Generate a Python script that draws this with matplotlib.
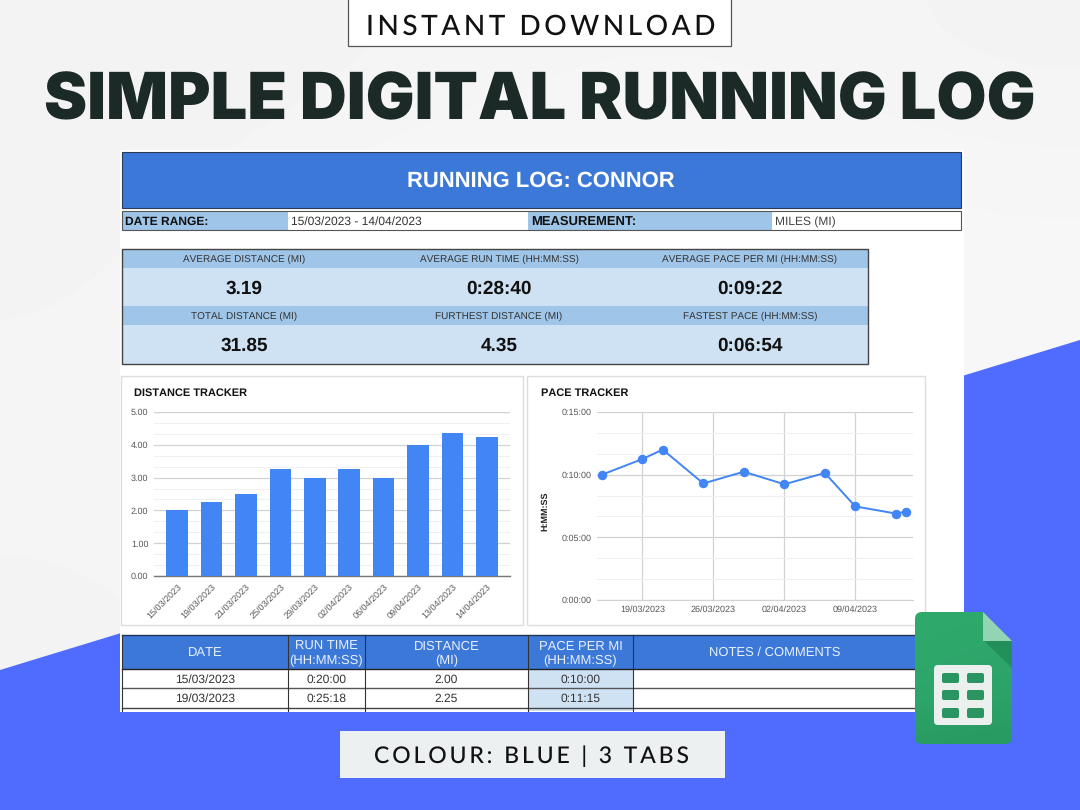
import numpy as np
import pandas as pd
import matplotlib
matplotlib.use("Agg")
import matplotlib.pyplot as plt
import matplotlib.dates as mdates
from matplotlib.patches import Rectangle, Polygon, FancyBboxPatch, PathPatch
from matplotlib.path import Path
from matplotlib.ticker import AutoMinorLocator, FuncFormatter, MultipleLocator

# ── Data ──────────────────────────────────────────────────────────────────────
run_dates = ["15/03/2023", "19/03/2023", "21/03/2023", "25/03/2023", "29/03/2023",
             "02/04/2023", "06/04/2023", "09/04/2023", "13/04/2023", "14/04/2023"]
distance = [2.00, 2.25, 2.50, 3.25, 3.00, 3.25, 3.00, 4.00, 4.35, 4.25]
pace = ["0:10:00", "0:11:15", "0:12:00", "0:09:18", "0:10:14",
        "0:09:14", "0:10:08", "0:07:28", "0:06:54", "0:07:03"]
pace_ticks = ["19/03/2023", "26/03/2023", "02/04/2023", "09/04/2023"]

stat_labels = [["AVERAGE DISTANCE (MI)", "AVERAGE RUN TIME (HH:MM:SS)", "AVERAGE PACE PER MI (HH:MM:SS)"],
               ["TOTAL DISTANCE (MI)", "FURTHEST DISTANCE (MI)", "FASTEST PACE (HH:MM:SS)"]]
stat_values = [["3.19", "0:28:40", "0:09:22"],
               ["31.85", "4.35", "0:06:54"]]

table_head = ["DATE", "RUN TIME\n(HH:MM:SS)", "DISTANCE\n(MI)", "PACE PER MI\n(HH:MM:SS)", "NOTES / COMMENTS"]
table_rows = [["15/03/2023", "0:20:00", "2.00", "0:10:00", ""],
              ["19/03/2023", "0:25:18", "2.25", "0:11:15", ""]]

# ── Style ─────────────────────────────────────────────────────────────────────
W, H = 1080, 810
BLUE_BG = "#4F6CFF"
SHEET_BLUE = "#3C78D8"
MID_BLUE = "#9FC5E8"
PALE_BLUE = "#CFE2F3"
CHART_BLUE = "#4285F4"
DARK = "#1B2A26"
plt.rcParams["font.family"] = ["Liberation Sans", "DejaVu Sans"]
plt.rcParams["text.hinting"] = "no_hinting"
plt.rcParams["text.hinting_factor"] = 1

fig = plt.figure(figsize=(W / 100, H / 100), dpi=100, facecolor="#F4F4F4")

# page canvas in pixel coordinates, y pointing down
bg = fig.add_axes([0, 0, 1, 1])


def rect(x0, y0, x1, y1, color, edge="none", lw=0.0, z=2):
    bg.add_patch(Rectangle((x0, y0), x1 - x0, y1 - y0, facecolor=color,
                           edgecolor=edge, linewidth=lw, zorder=z))


def px_axes(x0, y0, x1, y1):
    return fig.add_axes([x0 / W, 1 - y1 / H, (x1 - x0) / W, (y1 - y0) / H])


def spaced(s):
    return "\u200a\u200a".join(s)


# soft sheen on the grey background
sheen = np.array([[0.95, 0.955, 0.96, 0.96, 0.955],
                  [0.955, 0.97, 0.97, 0.975, 0.97],
                  [0.96, 0.965, 0.96, 0.965, 0.96],
                  [0.955, 0.96, 0.96, 0.96, 0.965]])
bg.imshow(sheen, extent=(0, W, 700, 0), cmap="gray", vmin=0, vmax=1, aspect="auto",
          interpolation="bicubic", zorder=0)
bg.set_xlim(0, W)
bg.set_ylim(H, 0)
bg.axis("off")

# blue wedge
bg.add_patch(Polygon([(0, 670), (1080, 340), (1080, 810), (0, 810)], facecolor=BLUE_BG, zorder=1))

# ── Headline ──────────────────────────────────────────────────────────────────
rect(348, -2, 731, 46, "white", edge="#555555", lw=0.9, z=3)
bg.text(541, 27, spaced("INSTANT DOWNLOAD"), ha="center", va="center", fontsize=20.3,
        color="#111111", fontweight="medium", family=["Lato", "DejaVu Sans"], zorder=4)
bg.text(540, 102, "SIMPLE DIGITAL RUNNING LOG", ha="center", va="center", fontsize=46.7,
        fontweight=900, color=DARK, family=["Inter", "DejaVu Sans"], zorder=4)

rect(340, 731, 725, 778, "#ECF0F1", z=3)
bg.text(532, 756, spaced("COLOUR: BLUE | 3 TABS"), ha="center", va="center", fontsize=16.5,
        color="#111111", fontweight="medium", family=["Lato", "DejaVu Sans"], zorder=4)

# ── Sheet panel ───────────────────────────────────────────────────────────────
rect(120, 150, 964, 712, "white", z=2)

rect(122, 152, 961, 208, SHEET_BLUE, edge="#2B3A55", lw=0.8, z=3)
bg.text(541, 181, "RUNNING LOG: CONNOR", ha="center", va="center", fontsize=16,
        fontweight="bold", color="white", zorder=4)

rect(122, 211, 288, 230, MID_BLUE, z=3)
rect(528, 211, 772, 230, MID_BLUE, z=3)
bg.add_patch(Rectangle((122, 211), 839, 19, fill=False, edgecolor="#555555", linewidth=0.8, zorder=5))
row_mid = 220.5
bg.text(125, row_mid, "DATE RANGE:", va="center_baseline", fontsize=8.8, fontweight="bold", color="#111111", zorder=6)
bg.text(291, row_mid, "15/03/2023 - 14/04/2023", va="center_baseline", fontsize=8.7, color="#333333", zorder=6)
bg.text(531, row_mid, "MEASUREMENT:", va="center_baseline", fontsize=9, fontweight="bold", color="#111111", zorder=6)
bg.text(775, row_mid + 1, "MILES (MI)", va="center_baseline", fontsize=8.8, color="#444444", zorder=6)

# stat block
stat_x = [244, 499, 750]
for row, (y_lab, y_val) in enumerate([(249, 268), (306, 325)]):
    y_end = 306 if row == 0 else 364
    rect(122, y_lab, 868, y_val, MID_BLUE, z=3)
    rect(122, y_val, 868, y_end, PALE_BLUE, z=3)
    for col, x in enumerate(stat_x):
        bg.text(x, (y_lab + y_val) / 2 + 1, stat_labels[row][col], ha="center", va="center",
                fontsize=7.1, color="#333333", zorder=4)
        bg.text(x, (y_val + y_end) / 2 + 1.5, stat_values[row][col], ha="center", va="center",
                fontsize=14, fontweight="bold", color="#111111", zorder=4)
bg.add_patch(Rectangle((122, 249), 746, 115, fill=False, edgecolor="#444444", linewidth=1.0, zorder=5))

# chart frames
for x0, x1 in [(121, 523), (527, 925)]:
    rect(x0, 376, x1, 625, "white", edge="#DDDDDD", lw=1.0, z=3)
bg.text(134, 393.5, "DISTANCE TRACKER", va="center", fontsize=8, fontweight="bold", color="#111111", zorder=4)
bg.text(541, 393.5, "PACE TRACKER", va="center", fontsize=8, fontweight="bold", color="#111111", zorder=4)

# ── Distance tracker ──────────────────────────────────────────────────────────
ax1 = px_axes(154, 412, 510, 576)
ax1.set_facecolor("none")
ax1.bar(range(len(distance)), distance, width=0.63, color=CHART_BLUE, zorder=3)
ax1.set_xlim(-0.67, 9.67)
ax1.set_ylim(0, 5)
ax1.yaxis.set_major_locator(MultipleLocator(1))
ax1.yaxis.set_minor_locator(AutoMinorLocator(3))
ax1.yaxis.set_major_formatter(FuncFormatter(lambda v, _: f"{v:.2f}"))
ax1.grid(True, axis="y", which="major", color="#D2D2D2", linewidth=0.9, zorder=0)
ax1.grid(True, axis="y", which="minor", color="#F0F0F0", linewidth=0.8, zorder=0)
ax1.set_xticks(range(len(run_dates)))
ax1.set_xticklabels(run_dates, rotation=45, ha="right", rotation_mode="anchor")
ax1.tick_params(axis="both", which="both", length=0, labelsize=6.5, labelcolor="#555555")
ax1.tick_params(axis="x", pad=5)
ax1.tick_params(axis="y", pad=4)
for side in ["top", "right", "left"]:
    ax1.spines[side].set_visible(False)
ax1.spines["bottom"].set_color("#777777")
ax1.spines["bottom"].set_linewidth(1.0)

# ── Pace tracker ──────────────────────────────────────────────────────────────
when = pd.to_datetime(run_dates, format="%d/%m/%Y")
pace_min = pd.to_timedelta(pace).total_seconds() / 60

ax2 = px_axes(597, 412, 913, 600)
ax2.set_facecolor("none")
ax2.plot(when, pace_min, "-o", color=CHART_BLUE, linewidth=1.4, markersize=5.8, zorder=3, clip_on=False)
day0 = mdates.date2num(when[0])
ax2.set_xlim(day0 - 0.49, day0 + 30.7)
ax2.set_ylim(0, 15)
ax2.set_xticks(pd.to_datetime(pace_ticks, format="%d/%m/%Y"))
ax2.xaxis.set_major_formatter(mdates.DateFormatter("%d/%m/%Y"))
ax2.yaxis.set_major_locator(MultipleLocator(5))
ax2.yaxis.set_minor_locator(AutoMinorLocator(3))
ax2.yaxis.set_major_formatter(FuncFormatter(lambda v, _: f"0:{int(v):02d}:00"))
ax2.grid(True, axis="y", which="major", color="#D2D2D2", linewidth=0.9, zorder=0)
ax2.grid(True, axis="y", which="minor", color="#F0F0F0", linewidth=0.8, zorder=0)
ax2.grid(True, axis="x", which="major", color="#D2D2D2", linewidth=0.9, zorder=0)
ax2.tick_params(axis="both", which="both", length=0, labelsize=6.5, labelcolor="#555555")
ax2.tick_params(axis="x", pad=4)
ax2.tick_params(axis="y", pad=4)
for side in ["top", "right", "left"]:
    ax2.spines[side].set_visible(False)
ax2.spines["bottom"].set_color("#D2D2D2")
ax2.set_axisbelow(True)
bg.text(545, 511, "H:MM:SS", rotation=90, ha="center", va="center", fontsize=6.5,
        fontweight="bold", color="#222222", zorder=4)

# ── Log table ─────────────────────────────────────────────────────────────────
col_x = [122, 288, 365, 528, 633, 916]
row_y = [669, 688, 708, 712]
rect(120, 633, 916, 712, "white", z=3)
rect(col_x[0], 635, col_x[-1], 669, SHEET_BLUE, z=4)
rect(col_x[3], 669, col_x[4], 711, PALE_BLUE, z=4)
for c, label in enumerate(table_head):
    y_head = 654 if "\n" in label else 653
    bg.text((col_x[c] + col_x[c + 1]) / 2, y_head, label, ha="center", va="center", fontsize=9,
            color="#E8F0FB", linespacing=1.2, zorder=6)
for r, row in enumerate(table_rows):
    for c, val in enumerate(row):
        bg.text((col_x[c] + col_x[c + 1]) / 2, (row_y[r] + row_y[r + 1]) / 2, val, ha="center",
                va="center_baseline", fontsize=8.8, color="#333333", zorder=6)
for y, color in [(635, "#223355"), (669, "#222222"), (688, "#555555"), (708, "#444444")]:
    bg.plot([col_x[0], col_x[-1]], [y, y], color=color, linewidth=1.0, zorder=5)
for x in col_x[:5]:
    bg.plot([x, x], [635, 711], color="#333333", linewidth=0.8, zorder=5)

# ── Sheets icon ───────────────────────────────────────────────────────────────
verts = [(922, 612), (983, 612), (1012, 641), (1012, 737), (1012, 744), (1005, 744),
         (922, 744), (915, 744), (915, 737), (915, 619), (915, 612), (922, 612)]
codes = [Path.MOVETO, Path.LINETO, Path.LINETO, Path.LINETO, Path.CURVE3, Path.CURVE3,
         Path.LINETO, Path.CURVE3, Path.CURVE3, Path.LINETO, Path.CURVE3, Path.CURVE3]
body = PathPatch(Path(verts, codes), facecolor="none", edgecolor="none", zorder=7)
bg.add_patch(body)
shade = np.array([[0.0, 0.0], [0.0, 0.05], [0.05, 0.15], [0.1, 0.2], [0.4, 0.45]])
body_img = bg.imshow(shade, extent=(915, 1012, 744, 612), cmap=matplotlib.colors.LinearSegmentedColormap.from_list(
    "sheet_green", ["#2FA86C", "#1F8A57"]), vmin=0, vmax=1, aspect="auto", interpolation="bicubic", zorder=7)
body_img.set_clip_path(body)
bg.set_xlim(0, W)
bg.set_ylim(H, 0)
bg.add_patch(Polygon([(983, 640), (1012, 640), (1012, 668)], facecolor="#23905B", zorder=8))
bg.add_patch(Polygon([(983, 612), (1012, 641), (983, 641)], facecolor="#92D4B4", zorder=8))
bg.add_patch(FancyBboxPatch((938, 669), 50, 52, boxstyle="round,pad=4,rounding_size=4",
                            facecolor="#EBEFEE", edgecolor="none", zorder=8))
for x0 in [942, 967]:
    for y0 in [673, 690, 708]:
        bg.add_patch(FancyBboxPatch((x0 + 2, y0 + 2), 13, 6, boxstyle="round,pad=2,rounding_size=2",
                                    facecolor="#2A9560", edgecolor="none", zorder=9))

fig.savefig("out.png", dpi=100)
